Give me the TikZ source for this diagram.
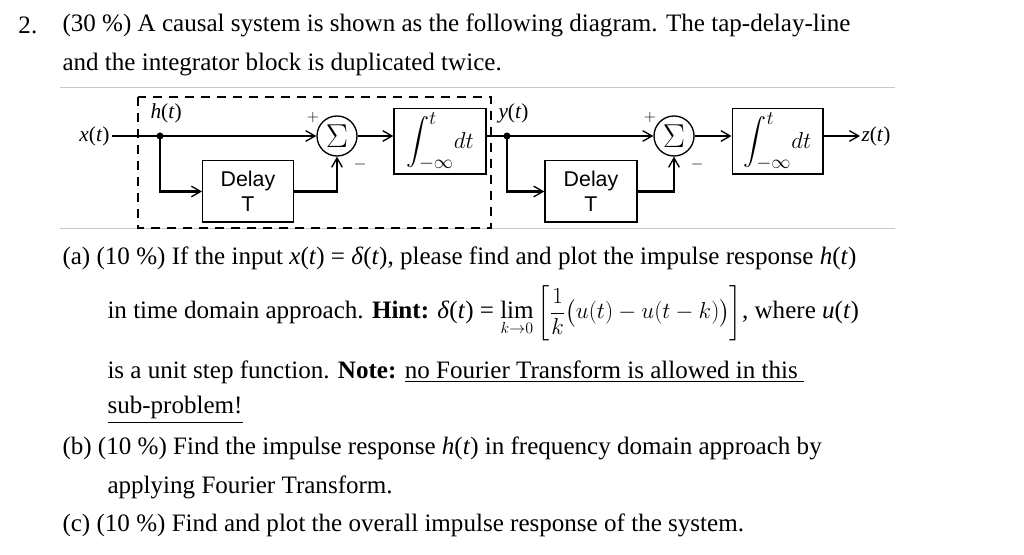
\documentclass[tikz,border=0pt]{standalone}
\usepackage{amsmath}
\usepackage{fontspec}
\setmainfont{Liberation Serif}
\newfontfamily\blocksans{Liberation Sans}
\usetikzlibrary{arrows.meta,positioning}
\tikzset{every picture/.style={line width=0.75pt}}
\newcommand{\iv}[1]{\textit{#1}}
\tikzset{
  txt/.style={anchor=west,inner sep=0pt,font=\fontsize{18.8}{22}\selectfont},
  blk/.style={draw,line width=1pt,minimum width=#1,inner sep=0pt,align=center},
  sig/.style={line width=1.6pt,-{Straight Barb[length=7pt,width=8pt,line width=1pt]}},
  wire/.style={line width=1.6pt},
  smnode/.style={draw,circle,line width=1pt,minimum size=30pt,inner sep=0pt,font=\fontsize{24}{26}\selectfont},
  lbl/.style={inner sep=0pt,font=\fontsize{16}{18}\selectfont},
  intg/.style={font=\fontsize{19}{22}\selectfont},
}
\begin{document}
\begin{tikzpicture}[x=0.75pt,y=0.75pt,yscale=-1,xscale=1]
    \useasboundingbox (0,0) rectangle (1024,555);

    % question text
    \node [txt] (qnum) at (18,25) {2.};
    \node [txt] (qa) at (62,25) {(30 \%) A causal system is shown as the following diagram. The tap-delay-line};
    \node [txt] (qb) at (62,65) {and the integrator block is duplicated twice.};

    % grey rules
    \draw [color={rgb, 255:red, 200; green, 200; blue, 200 }] (60,88) -- (895,88) (60,229) -- (895,229);

    % dashed frame
    \draw [line width=1.5pt,dash pattern={on 7pt off 5pt}] (138,97) rectangle (491,228);

    % blocks, stage 1
    \node [blk=68pt,minimum height=46pt,font=\blocksans\fontsize{16}{19}\selectfont] (dly1) at (248,191.5) {Delay\\T};
    \node [smnode] (sum1) at (337,136) {$\Sigma$};
    \node [blk=69pt,minimum height=49pt,intg] (int1) at (440,141.5) {$\displaystyle\int_{-\infty}^{t}\!dt$};
    % blocks, stage 2
    \node [blk=69pt,minimum height=46pt,font=\blocksans\fontsize{16}{19}\selectfont] (dly2) at (591,191.5) {Delay\\T};
    \node [smnode] (sum2) at (674,136) {$\Sigma$};
    \node [blk=68pt,minimum height=49pt,intg] (int2) at (777.5,141.5) {$\displaystyle\int_{-\infty}^{t}\!dt$};

    % signals
    \coordinate (xin) at (112,136);
    \coordinate (j1) at (160,136);
    \coordinate (j2) at (507,136);
    \coordinate (zout) at (860,136);
    \node [lbl,anchor=east] (xlab) at (110,136) {\iv{x}(\iv{t})};
    \node [lbl,anchor=south west] (hlab) at (150,124) {\iv{h}(\iv{t})};
    \node [lbl,anchor=south west] (ylab) at (498,124) {\iv{y}(\iv{t})};
    \node [lbl,anchor=west] (zlab) at (861,136) {\iv{z}(\iv{t})};
    \node [lbl,font=\large] (p1) at (313,118) {$+$};
    \node [lbl,font=\large] (m1) at (360,165) {$-$};
    \node [lbl,font=\large] (p2) at (650,118) {$+$};
    \node [lbl,font=\large] (m2) at (697,165) {$-$};

    \draw [sig] (xin) -- (sum1);
    \fill (j1) circle (3.5);
    \draw [sig] (j1) |- (dly1);
    \draw [sig] (dly1) -| (sum1);
    \draw [sig] (sum1) -- (int1.west |- sum1);
    \draw [wire] (int1.east |- sum1) -- (j2);
    \draw [sig] (j2) -- (sum2);
    \fill (j2) circle (3.5);
    \draw [sig] (j2) |- (dly2);
    \draw [sig] (dly2) -| (sum2);
    \draw [sig] (sum2) -- (int2.west |- sum2);
    \draw [sig] (int2.east |- sum2) -- (zout);

    % sub-questions
    \node [txt] (pa) at (62,258) {(a) (10 \%) If the input \iv{x}(\iv{t}) = \iv{δ}(\iv{t}), please find and plot the impulse response \iv{h}(\iv{t})};
    \node [txt] (pa2) at (107,313) {in time domain approach. \textbf{Hint:} \iv{δ}(\iv{t}) = $\lim\limits_{k\to0}\left[\dfrac{1}{k}\bigl(u(t)-u(t-k)\bigr)\right]$, where \iv{u}(\iv{t})};
    \node [txt] (pa3) at (107,372) {is a unit step function. \textbf{Note:} \underline{no Fourier Transform is allowed in this\ }};
    \node [txt] (pa4) at (107,410) {\underline{sub-problem!}};
    \node [txt] (pb) at (62,448) {(b) (10 \%) Find the impulse response \iv{h}(\iv{t}) in frequency domain approach by};
    \node [txt] (pb2) at (107,487) {applying Fourier Transform.};
    \node [txt] (pc) at (62,525) {(c) (10 \%) Find and plot the overall impulse response of the system.};
\end{tikzpicture}
\end{document}
